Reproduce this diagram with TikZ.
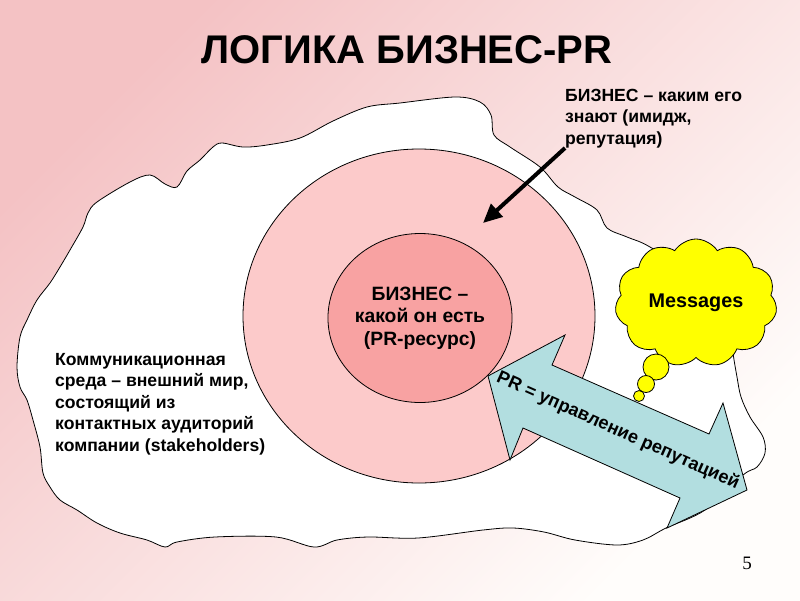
\documentclass[tikz,border=0pt]{standalone}
\usepackage{fontspec}
\setmainfont{Liberation Sans}
\newfontfamily\serifnum{Liberation Serif}
\usetikzlibrary{shapes.symbols,shapes.geometric,arrows.meta}
\definecolor{bgpink}{RGB}{244,194,196}
\definecolor{bgwhite}{RGB}{255,253,251}
\definecolor{outerpink}{RGB}{252,202,202}
\definecolor{innerpink}{RGB}{248,162,162}
\definecolor{arrowblue}{RGB}{178,222,224}
\definecolor{cloudyellow}{RGB}{255,255,0}
\tikzset{
  outline/.style={draw=black, line width=0.8pt},
  boldtxt/.style={font=\bfseries\fontsize{17.6}{21.5}\selectfont, inner sep=0pt},
}
\begin{document}
\begin{tikzpicture}[x=1pt,y=-1pt]
\useasboundingbox (0,0) rectangle (800,600);
\shade[top color=bgpink, bottom color=bgwhite, shading angle=45] (0,0) rectangle (800,600);

% title
\node[font=\bfseries\fontsize{40}{42}\selectfont, inner sep=0pt] (title) at (407,50) {ЛОГИКА БИЗНЕС-PR};

% environment blob
\draw[outline, fill=white] plot[smooth cycle, tension=0.55] coordinates {
 (97,202) (130,182) (150,175) (165,184) (177,187) (187,171) (200,160) (213,147)
 (222,143) (243,147) (267,145) (300,138) (333,121) (367,107) (400,103) (455,97)
 (480,102) (491,115) (494,135) (510,147) (540,167) (558,187) (575,197) (597,210)
 (607,228) (627,237) (650,247) (700,280) (730,325) (733,353) (737,377) (741,397)
 (750,417) (763,437) (765,453) (757,467) (743,475) (705,510) (666,528) (643,540)
 (617,545) (575,540) (544,532) (513,528) (483,530) (418,538) (368,537) (337,540)
 (314,547) (276,537) (215,537) (177,542) (165,547) (147,540) (120,533) (97,523)
 (77,510) (60,500) (50,487) (43,473) (40,447) (33,420) (27,400) (20,387)
 (17,367) (20,337) (27,320) (37,300) (50,283) (60,267) (70,250) (83,227) (88,213)};

% circles
\node[ellipse, outline, fill=outerpink, minimum width=352pt, minimum height=334pt, inner sep=0pt] (outer) at (419,316) {};
\node[ellipse, outline, fill=innerpink, minimum width=176pt, minimum height=169pt, inner sep=0pt,
      align=center, font=\bfseries\fontsize{19.3}{22.5}\selectfont] (inner) at (420,318)
      {БИЗНЕС –\\какой он есть\\(PR-ресурс)};

% texts
\node[boldtxt, anchor=north west, align=left] (known) at (565,89)
  {БИЗНЕС – каким его\\знают (имидж,\\репутация)};
\node[boldtxt, anchor=north west, align=left] (env) at (55,353)
  {Коммуникационная\\среда – внешний мир,\\состоящий из\\контактных аудиторий\\компании (stakeholders)};

% black arrow
\coordinate (astart) at (565,148);
\coordinate (atip) at (483,223);
\draw[line width=4pt, -{Triangle[length=19pt,width=17pt]}] (astart) -- (atip);

% blue double arrow
\draw[outline, fill=arrowblue] (488,376) -- (565,335) -- (552,365) -- (709,434) -- (723,403)
  -- (747,490) -- (667,528) -- (680,498) -- (523,428) -- (510,460) -- cycle;
\node[font=\bfseries\fontsize{18.2}{20}\selectfont, inner sep=0pt, rotate=-24] (pr) at (618,431) {PR = управление репутацией};

% thought cloud
\node[cloud, cloud puffs=11, cloud puff arc=115, cloud ignores aspect, outline, fill=cloudyellow,
      minimum width=162pt, minimum height=128pt, inner sep=0pt,
      font=\bfseries\fontsize{19.8}{21}\selectfont] (msg) at (696,303) {Messages};
\draw[outline, fill=cloudyellow] (656,367) circle (13pt);
\draw[outline, fill=cloudyellow] (646,384) circle (8.5pt);
\draw[outline, fill=cloudyellow] (639,396) circle (5.5pt);

% page number
\node[font=\serifnum\fontsize{19}{20}\selectfont, inner sep=0pt] (pagenum) at (747,563) {5};
\end{tikzpicture}
\end{document}
